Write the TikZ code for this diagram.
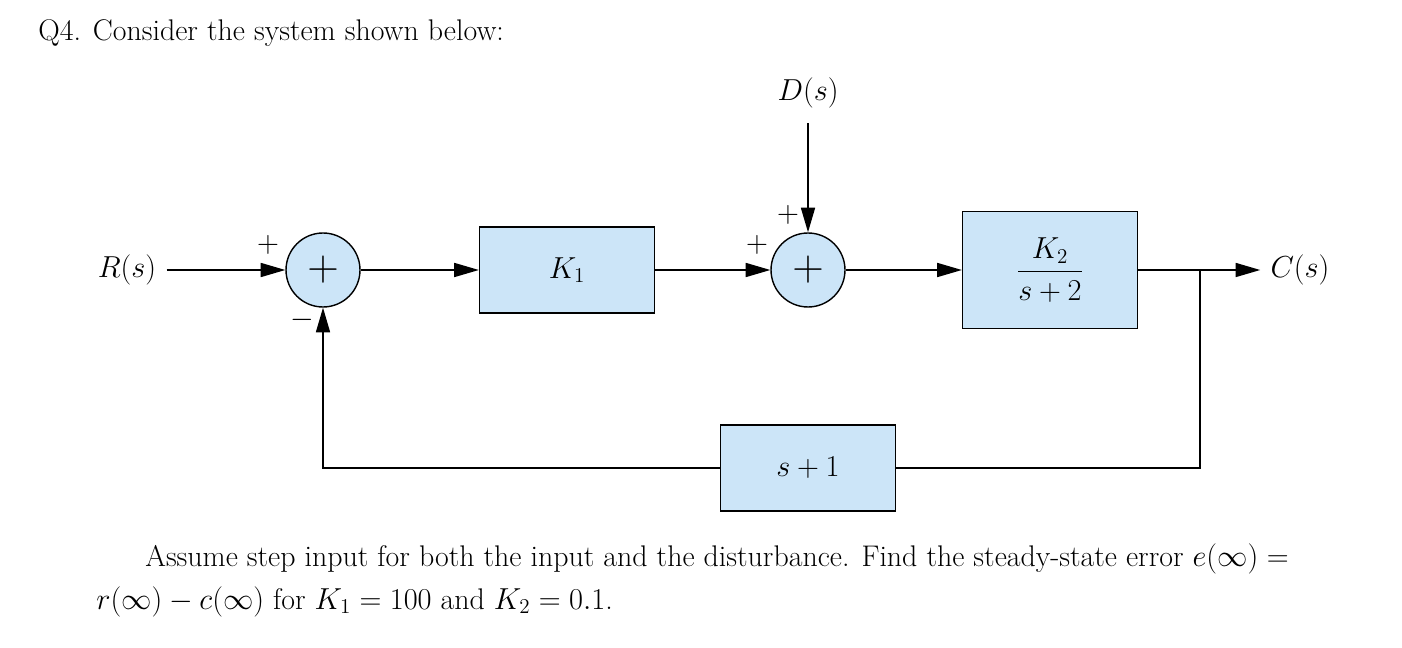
\documentclass[tikz,border=0pt]{standalone}
\usepackage{amsmath}
\usetikzlibrary{arrows.meta,positioning,calc}
\definecolor{blockblue}{HTML}{CCE5F8}
\tikzset{>={Triangle[length=14pt,width=8pt]}}
\begin{document}
\fontsize{17}{20}\selectfont
\begin{tikzpicture}[x=0.02cm,y=-0.02cm,
  block/.style={draw,thick,fill=blockblue,minimum width=3.5cm,minimum height=1.72cm},
  sum/.style={draw,thick,circle,fill=blockblue,minimum size=1.48cm,inner sep=0pt,font=\fontsize{28}{28}\selectfont},
  sig/.style={font=\fontsize{18}{18}\selectfont},
  line/.style={thick}]
  \useasboundingbox (0,0) rectangle (1402,648);

  \node[anchor=west] (title) at (28,33) {Q4. Consider the system shown below:};

  % signals and blocks
  \node (in) at (127,270) {$R(s)$};
  \node[sum] (s1) at (323,270) {$+$};
  \node[block] (k1) at (567,270) {$K_1$};
  \node[sum] (s2) at (808,270) {$+$};
  \node (dist) at (808,93) {$D(s)$};
  \node[block,minimum height=2.34cm] (plant) at (1050,270) {$\dfrac{K_2}{s+2}$};
  \node (out) at (1300,270) {$C(s)$};
  \node[block] (fb) at (808,468) {$s+1$};
  \coordinate (br) at (1200,270);

  \node[sig] at (268,245) {$+$};
  \node[sig] at (302,320) {$-$};
  \node[sig] at (757,245) {$+$};
  \node[sig] at (788,215) {$+$};

  % connectors
  \draw[line,->] (in) -- (s1);
  \draw[line,->] (s1) -- (k1);
  \draw[line,->] (k1) -- (s2);
  \draw[line,->] (dist.south) ++(0,5) -- (s2);
  \draw[line,->] (s2) -- (plant);
  \draw[line,->] (plant) -- (out);
  \draw[line] (br) |- (fb);
  \draw[line,->] (fb) -| (s1);

  \node[anchor=base west] (q1) at (135,566) {Assume step input for both the input and the disturbance. Find the steady-state error $e(\infty) =$};
  \node[anchor=base west] (q2) at (86,609) {$r(\infty)-c(\infty)$ for $K_1=100$ and $K_2=0.1$.};
\end{tikzpicture}
\end{document}
